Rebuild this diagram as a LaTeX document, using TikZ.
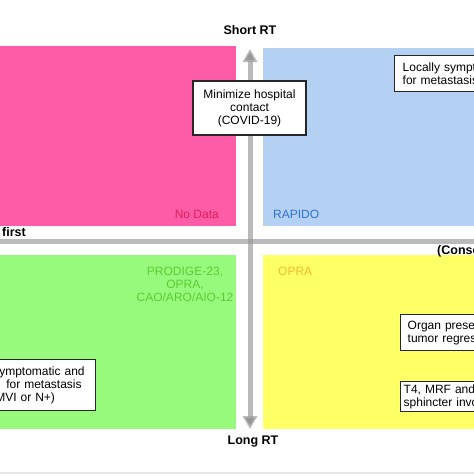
\documentclass[tikz,border=0pt]{standalone}
\usepackage{fontspec}
\setmainfont{Liberation Sans}
\usetikzlibrary{arrows.meta}
\definecolor{qpink}{RGB}{255,92,168}
\definecolor{qblue}{RGB}{180,208,242}
\definecolor{qgreen}{RGB}{152,250,124}
\definecolor{qyellow}{RGB}{255,255,102}
\definecolor{tpink}{RGB}{225,30,90}
\definecolor{tblue}{RGB}{50,115,205}
\definecolor{tgreen}{RGB}{90,205,50}
\definecolor{tyellow}{RGB}{245,185,50}
\definecolor{axisgray}{RGB}{150,150,150}
\definecolor{bandgray}{RGB}{230,230,230}
\tikzset{
  box/.style={draw=black!85, line width=1.4pt, fill=white, inner ysep=2pt,
    font=\fontsize{12}{13}\selectfont},
  lbl/.style={inner sep=0pt, font=\fontsize{12}{13}\selectfont},
  axlbl/.style={inner sep=0pt, font=\fontsize{12.5}{14}\selectfont\bfseries},
  axisline/.style={draw=axisgray, draw opacity=0.65, line width=5pt},
  axisarrow/.style={axisline, -{Triangle[width=14pt,length=13pt]}}
}
\begin{document}
\begin{tikzpicture}[x=1pt,y=-1pt]
\useasboundingbox (0,0) rectangle (474,474);
\clip (0,0) rectangle (474,474);
\fill[white] (0,0) rectangle (474,474);
\fill[bandgray] (0,472) rectangle (474,474);
% quadrants
\fill[qpink] (-2,46) rectangle (236,226);
\fill[qblue] (263,48) rectangle (476,226);
\fill[qgreen] (-2,255) rectangle (236,429);
\fill[qyellow] (263,255) rectangle (476,429);
% quadrant labels
\node[lbl, text=tpink, anchor=east] (nodata) at (219,214) {No Data};
\node[lbl, text=tblue, anchor=west] (rapido) at (273,214) {RAPIDO};
\node[lbl, text=tgreen, align=center] (prodige) at (185,284) {PRODIGE-23,\\OPRA,\\CAO/ARO/AIO-12};
\node[lbl, text=tyellow, anchor=west] (opra) at (278,271) {OPRA};
% axes
\coordinate (c) at (250,241.5);
\coordinate (up) at (250,49);
\coordinate (down) at (250,429);
\coordinate (left) at (-2,241.5);
\coordinate (right) at (476,241.5);
\draw[axisline] (left) -- (right);
\draw[axisarrow] (c) -- (up);
\draw[axisarrow] (c) -- (down);
% axis labels
\node[axlbl] (short) at (250,30) {Short RT};
\node[axlbl] (long) at (253,442) {Long RT};
\node[axlbl, anchor=east] (first) at (26,232) {r first};
\node[axlbl, anchor=west] (conse) at (437,251) {(Conse};
% boxes
\node[box, minimum width=113pt, minimum height=54pt, align=center] (covid) at (249.5,108)
  {Minimize hospital\\contact\\(COVID-19)};
\node[box, anchor=north west, text width=110pt, minimum height=36pt, inner xsep=8pt, align=left] (loc) at (394,55)
  {Locally sympto\\for metastasis};
\node[box, anchor=north west, text width=110pt, minimum height=36pt, inner xsep=7pt, align=left] (organ) at (400,314)
  {Organ preserv\\tumor regress};
\node[box, anchor=north west, text width=110pt, minimum height=30pt, inner xsep=3pt, align=left] (t4) at (400,381)
  {T4, MRF and/\\sphincter invo};
\node[box, anchor=north east, text width=92pt, minimum height=51pt, inner xsep=4pt, align=left] (sympt) at (96,359)
  {ymptomatic and\\\hspace*{7pt}for metastasis\\\hspace*{-4pt}MVI or N+)};
\end{tikzpicture}
\end{document}
